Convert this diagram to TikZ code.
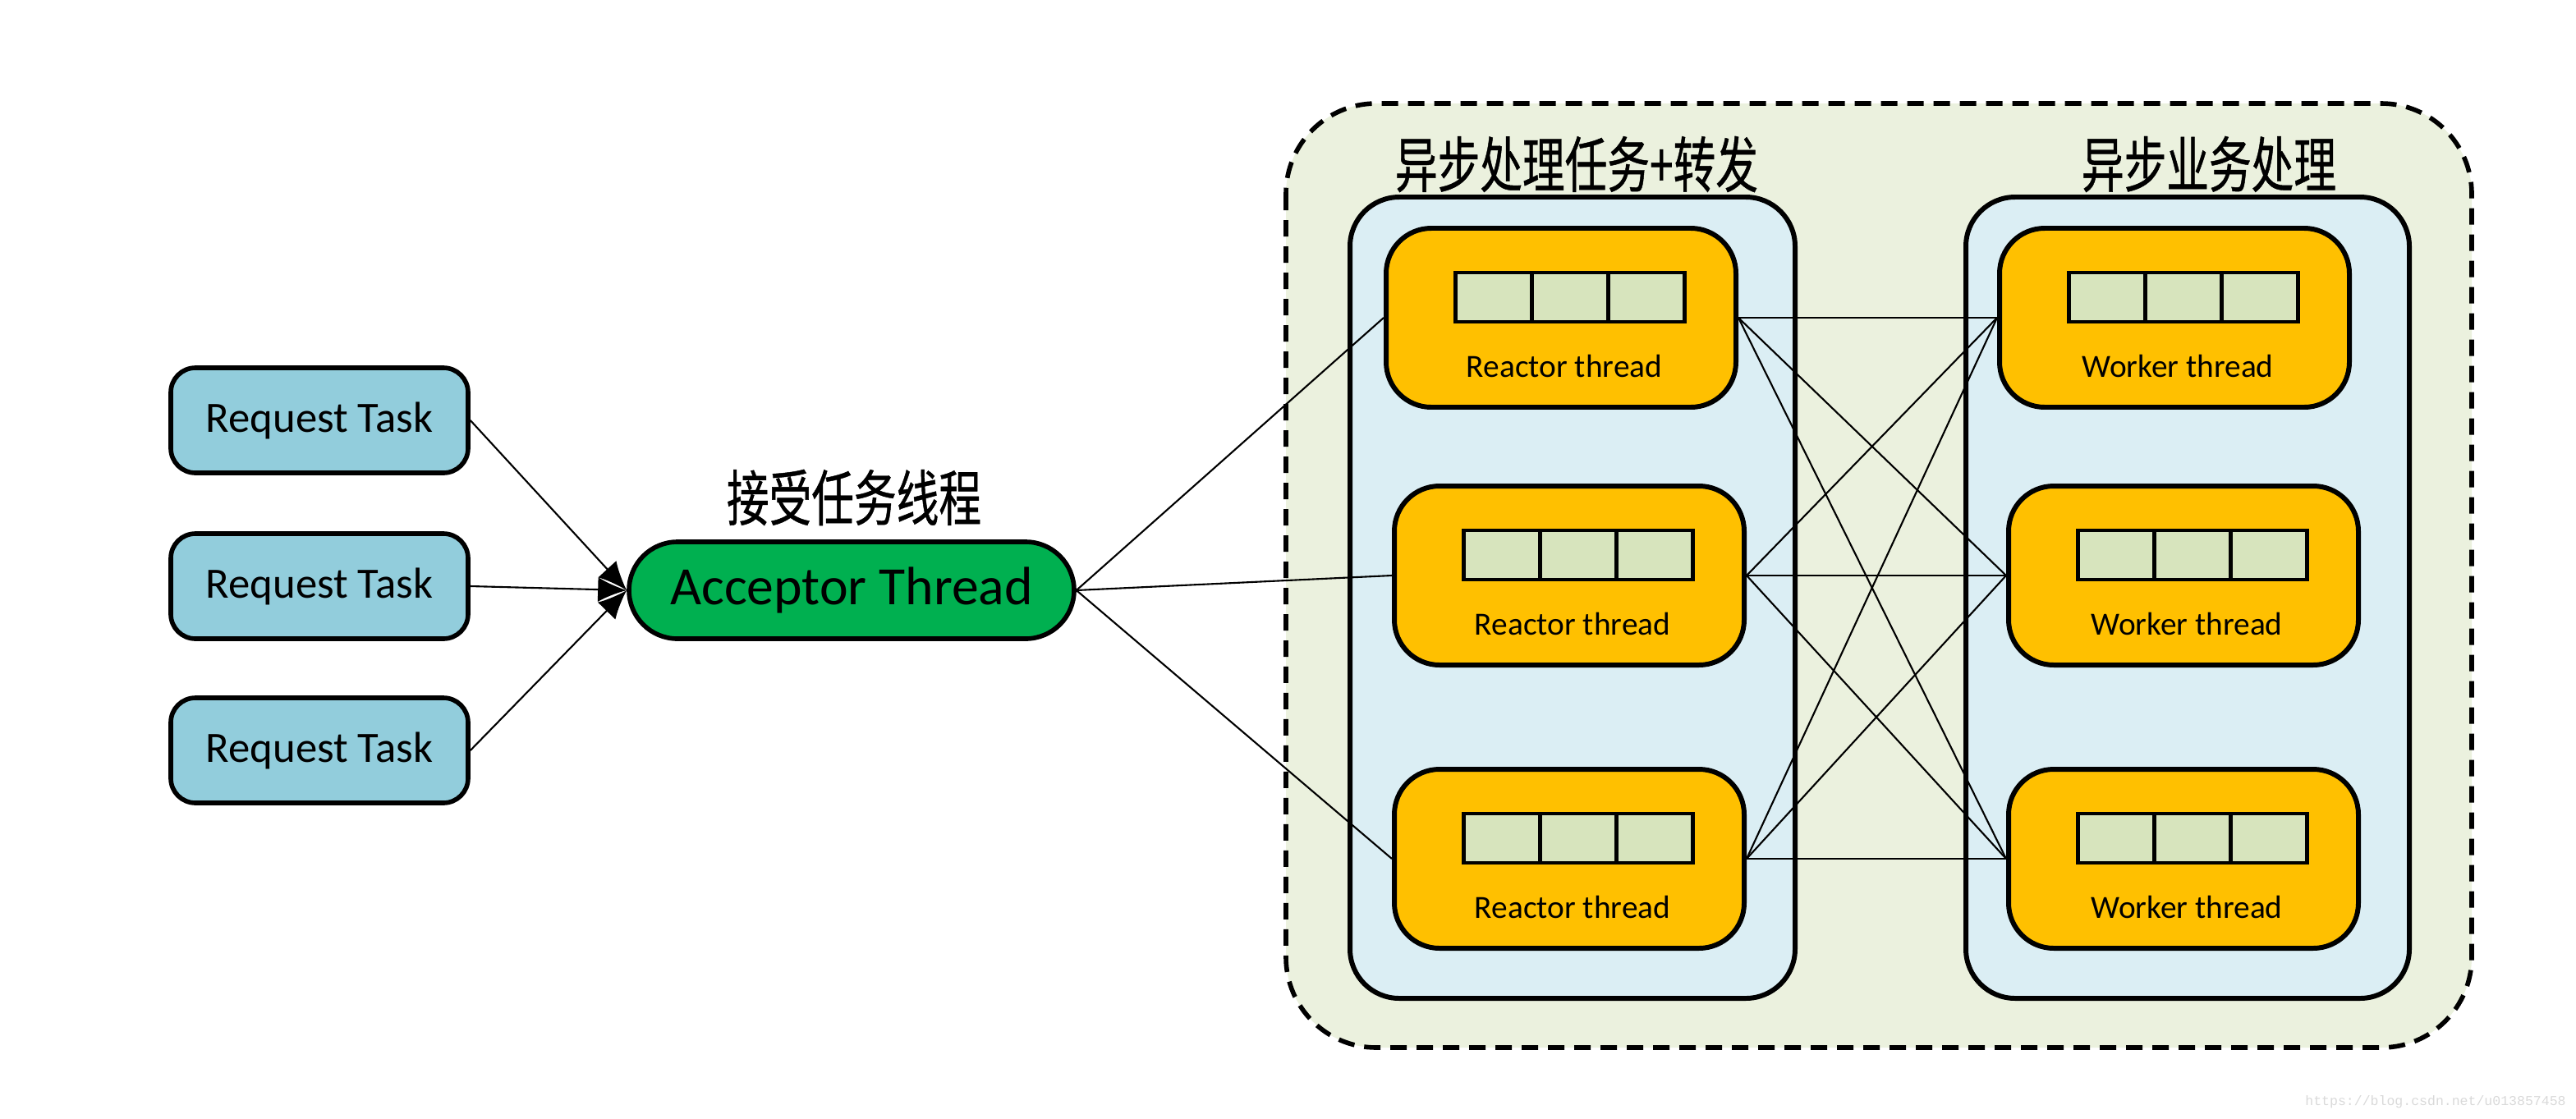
\documentclass[tikz,border=0pt]{standalone}
\usepackage{fontspec}
\setmainfont{Carlito}
\newfontfamily\cjk[FakeStretch=0.7, FakeBold=0.6]{Noto Sans CJK SC}
\newfontfamily\urlfont{Liberation Mono}
\usetikzlibrary{positioning, arrows.meta}

\definecolor{taskblue}{HTML}{92CDDC}
\definecolor{acceptgreen}{HTML}{00B050}
\definecolor{threadorange}{HTML}{FFC000}
\definecolor{queuegreen}{HTML}{D7E4BD}
\definecolor{poolbg}{HTML}{EBF1DE}
\definecolor{colbg}{HTML}{DBEEF4}

\tikzset{
  task/.style={draw, line width=1.6pt, rounded corners=0.3cm, fill=taskblue,
    minimum width=3.62cm, minimum height=1.28cm, font=\fontsize{15}{18}\selectfont},
  acceptor/.style={draw, line width=1.6pt, rounded corners=0.59cm, fill=acceptgreen,
    minimum width=5.42cm, minimum height=1.18cm, font=\fontsize{18.7}{22}\selectfont},
  thread/.style={draw, line width=1.7pt, rounded corners=0.55cm, fill=threadorange,
    minimum width=4.26cm, minimum height=2.18cm, inner sep=0pt},
  cell/.style={draw, line width=1.4pt, fill=queuegreen, minimum width=0.93cm,
    minimum height=0.6cm, inner sep=0pt, outer sep=0pt},
  threadlabel/.style={font=\fontsize{11.2}{13}\selectfont},
  heading/.style={font=\cjk\fontsize{21}{24}\selectfont},
  link/.style={line width=0.6pt},
}

\begin{document}
\begin{tikzpicture}
    \useasboundingbox (0,0) rectangle (31.37,-13.62);

    % Dashed outer area and the two thread pools
    \draw[line width=1.6pt, dash pattern=on 0.2cm off 0.12cm, rounded corners=1.1cm, fill=poolbg]
        (15.66,-1.26) rectangle (30.10,-12.76);
    \draw[line width=1.7pt, rounded corners=0.6cm, fill=colbg] (16.44,-2.40) rectangle (21.86,-12.16); % Reactor pool
    \draw[line width=1.7pt, rounded corners=0.6cm, fill=colbg] (23.94,-2.40) rectangle (29.34,-12.16); % Worker pool

    % Pool headings
    \node[heading] (reactorhead) at (19.20,-2.00) {异步处理任务+转发};
    \node[heading] (workerhead) at (26.90,-2.00) {异步业务处理};

    % Incoming requests
    \node[task] (req1) at (3.89,-5.12) {Request Task};
    \node[task] (req2) at (3.89,-7.14) {Request Task};
    \node[task] (req3) at (3.89,-9.14) {Request Task};

    % Acceptor
    \node[acceptor] (acc) at (10.37,-7.19) {Acceptor Thread};
    \node[heading] (acchead) at (10.40,-6.06) {接受任务线程};

    % Reactor and worker threads
    \node[thread] (r1) at (19.01,-3.87) {};
    \node[thread] (r2) at (19.11,-7.01) {};
    \node[thread] (r3) at (19.11,-10.46) {};
    \node[thread] (w1) at (26.48,-3.87) {};
    \node[thread] (w2) at (26.59,-7.01) {};
    \node[thread] (w3) at (26.59,-10.46) {};

    % Queue and label inside each thread
    \foreach \t/\name in {r1/Reactor, r2/Reactor, r3/Reactor, w1/Worker, w2/Worker, w3/Worker} {
        \node[cell] (\t q2) at ([xshift=0.11cm, yshift=0.25cm]\t.center) {};
        \node[cell, left=0pt of \t q2] (\t q1) {};
        \node[cell, right=0pt of \t q2] (\t q3) {};
        \node[threadlabel] (\t text) at ([xshift=0.04cm, yshift=-0.59cm]\t.center) {\name\ thread};
    }

    % Connections
    \foreach \i in {1,2,3}
        \draw[link, -{Latex[length=0.35cm, width=0.3cm]}] (req\i.east) -- (acc.west);
    \foreach \i in {1,2,3}
        \draw[link] (acc.east) -- (r\i.west);
    \foreach \i in {1,2,3}
        \foreach \j in {1,2,3}
            \draw[link] (r\i.east) -- (w\j.west);

    % Watermark
    \node[text=black!15, font=\urlfont\fontsize{4.7}{6}\selectfont] (url) at (29.66,-13.42) {https://blog.csdn.net/u013857458};
\end{tikzpicture}
\end{document}
